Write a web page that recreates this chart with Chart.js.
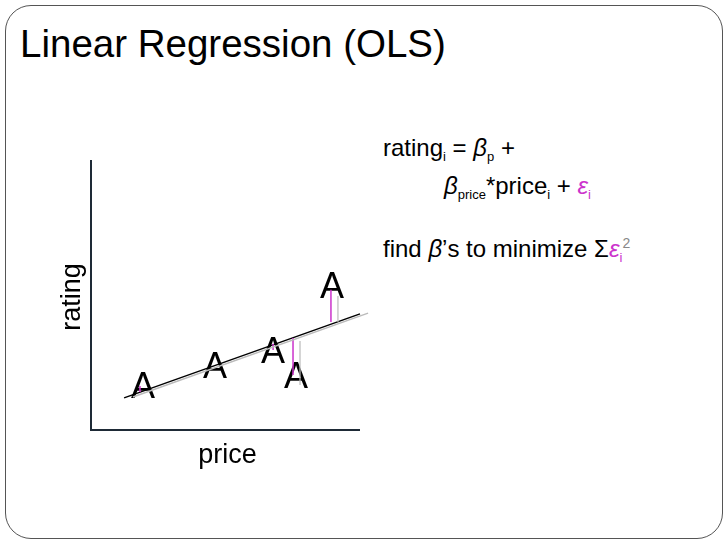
<!DOCTYPE html>
<html><head><meta charset="utf-8">
<script src="https://cdn.jsdelivr.net/npm/chart.js@4"></script>
<style>
html,body{margin:0;padding:0;background:#fff;width:728px;height:546px;overflow:hidden;font-family:"Liberation Sans",Arial,sans-serif;}
#frame{position:absolute;left:5px;top:5px;width:716px;height:532px;border:1.5px solid #555;border-radius:26px;}
#title{position:absolute;left:20px;top:22px;font-size:38.5px;color:#000;white-space:nowrap;}
.eq{position:absolute;font-size:24px;color:#000;white-space:nowrap;}
.eq sub{font-size:13px;vertical-align:-5px;}
.eq sup{font-size:14px;color:#888;vertical-align:9px;}
.m{color:#cc33cc;font-style:italic;}
i{font-style:italic;}
#c{position:absolute;left:0;top:0;}
</style></head><body>
<div id="frame"></div>
<div id="title">Linear Regression (OLS)</div>
<div class="eq" style="left:383px;top:134px">rating<sub>i</sub> = <i>β</i><sub>p</sub> +</div>
<div class="eq" style="left:444px;top:172px"><i>β</i><sub>price</sub>*price<sub>i</sub> + <span class="m">ε</span><sub class="m" style="font-style:normal">i</sub></div>
<div class="eq" style="left:383px;top:235px">find <i>β</i>’s to minimize Σ<span class="m">ε</span><sub class="m" style="font-style:normal">i</sub><sup>2</sup></div>
<canvas id="c" width="728" height="546"></canvas>
<script>
const pointLabels = ["A","A","A","A","A"];
const priceValues = [1.93, 4.61, 6.77, 7.62, 8.96];
const ratingValues = [1.67, 2.41, 2.96, 2.04, 5.37];
const fitLineX = [1.23, 10.0];
const fitLineY = [1.19, 4.30];
const altLineX = [1.56, 10.3];
const altLineY = [1.22, 4.33];
const residX = [1.82, 6.77, 7.51, 8.92];
const residTop = [1.63, 3.19, 3.41, 5.19];
const residBottom = [1.41, 2.96, 2.04, 4.00];
const altResidX = [7.77, 9.18];
const altResidTop = [3.30, 4.96];
const altResidBottom = [1.67, 4.00];
const xTitle = "price", yTitle = "rating";

function seg(x1,y1,x2,y2,color,w){
  return {type:'line',data:[{x:x1,y:y1},{x:x2,y:y2}],borderColor:color,borderWidth:w,pointRadius:0,clip:false};
}
const ds = [];
ds.push(seg(altLineX[0],altLineY[0],altLineX[1],altLineY[1],'#bbbbbb',1.5));
altResidX.forEach((x,i)=>ds.push(seg(x,altResidTop[i],x,altResidBottom[i],'#bbbbbb',1.2)));
residX.forEach((x,i)=>ds.push(seg(x,residTop[i],x,residBottom[i],'#cc33cc',1.5)));
ds.push(seg(fitLineX[0],fitLineY[0],fitLineX[1],fitLineY[1],'#000000',1.5));
ds.push({type:'scatter',data:priceValues.map((x,i)=>({x,y:ratingValues[i]})),pointRadius:0});

const deco = {
  id:'deco',
  beforeDatasetsDraw(chart){
    const {ctx,chartArea:a,scales:{x,y}} = chart;
    ctx.save();
    ctx.strokeStyle='#1e2a36';ctx.lineWidth=2;
    ctx.beginPath();ctx.moveTo(a.left,a.top);ctx.lineTo(a.left,a.bottom);ctx.lineTo(a.right,a.bottom);ctx.stroke();
    ctx.fillStyle='#000';ctx.font='36px "Liberation Sans", Arial';
    ctx.textAlign='center';ctx.textBaseline='alphabetic';
    priceValues.forEach((v,i)=>ctx.fillText(pointLabels[i],x.getPixelForValue(v),y.getPixelForValue(ratingValues[i])+13));
    ctx.font='27px "Liberation Sans", Arial';
    ctx.fillText(xTitle,(a.left+a.right)/2+2,a.bottom+33);
    ctx.translate(a.left-11,(a.top+a.bottom)/2+2);ctx.rotate(-Math.PI/2);
    ctx.fillText(yTitle,0,0);
    ctx.restore();
  }
};

new Chart(document.getElementById('c'),{
  data:{datasets:ds},
  options:{
    responsive:false,animation:false,
    layout:{padding:{left:91,top:160,right:368,bottom:116}},
    plugins:{legend:{display:false},tooltip:{enabled:false}},
    scales:{
      x:{type:'linear',min:0,max:10,display:false},
      y:{type:'linear',min:0,max:10,display:false}
    }
  },
  plugins:[deco]
});
</script>
</body></html>
